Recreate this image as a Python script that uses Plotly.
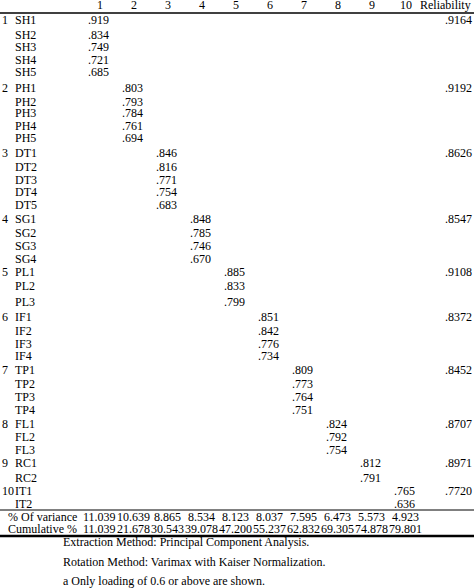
import plotly.graph_objects as go

factors = ["1", "2", "3", "4", "5", "6", "7", "8", "9", "10"]
groups = [
    ("1", ["SH1", "SH2", "SH3", "SH4", "SH5"], [".919", ".834", ".749", ".721", ".685"], ".9164"),
    ("2", ["PH1", "PH2", "PH3", "PH4", "PH5"], [".803", ".793", ".784", ".761", ".694"], ".9192"),
    ("3", ["DT1", "DT2", "DT3", "DT4", "DT5"], [".846", ".816", ".771", ".754", ".683"], ".8626"),
    ("4", ["SG1", "SG2", "SG3", "SG4"], [".848", ".785", ".746", ".670"], ".8547"),
    ("5", ["PL1", "PL2", "PL3"], [".885", ".833", ".799"], ".9108"),
    ("6", ["IF1", "IF2", "IF3", "IF4"], [".851", ".842", ".776", ".734"], ".8372"),
    ("7", ["TP1", "TP2", "TP3", "TP4"], [".809", ".773", ".764", ".751"], ".8452"),
    ("8", ["FL1", "FL2", "FL3"], [".824", ".792", ".754"], ".8707"),
    ("9", ["RC1", "RC2"], [".812", ".791"], ".8971"),
    ("10", ["IT1", "IT2"], [".765", ".636"], ".7720"),
]
variance = ["11.039", "10.639", "8.865", "8.534", "8.123", "8.037", "7.595", "6.473", "5.573", "4.923"]
cumulative = ["11.039", "21.678", "30.543", "39.078", "47.200", "55.237", "62.832", "69.305", "74.878", "79.801"]
notes = ["Extraction Method: Principal Component Analysis.",
         "Rotation Method: Varimax with Kaiser Normalization.",
         "a Only loading of 0.6 or above are shown."]

row_y = [20, 35, 47, 60, 72, 88, 102, 113, 126, 138, 153, 167, 180, 192, 205,
         219, 233, 246, 259, 272, 286, 302, 317, 331, 344, 356, 370, 384, 397, 410,
         424, 437, 450, 463, 478, 491, 504]
col_x = [98, 132, 166, 200, 234, 268, 302, 336, 370, 404]

F = dict(family="Liberation Serif", size=12, color="black")
ann = []
def t(x, y, s, anchor="center"):
    ann.append(dict(x=x, y=y, text=s, showarrow=False, xanchor=anchor, yanchor="middle",
                    font=F, xref="x", yref="y"))

for i, f in enumerate(factors):
    t(col_x[i] + 2, 5, f)
t(445, 5, "Reliability")

r = 0
for gi, (num, items, loads, rel) in enumerate(groups):
    for k, (it, ld) in enumerate(zip(items, loads)):
        y = row_y[r]
        if k == 0:
            t(0, y, num, "left")
            t(474, y, rel, "right")
        t(13, y, it, "left")
        t(col_x[gi], y, ld)
        r += 1

t(79, 517, "% Of variance", "right")
t(79, 529, "Cumulative %", "right")
for i in range(10):
    t(col_x[i] + 1, 517, variance[i])
    t(col_x[i] + 1, 529, cumulative[i])
for y, s in zip([542, 562, 581], notes):
    t(61, y, s, "left")

shapes = [
    dict(type="line", x0=0, x1=474, y0=13, y1=13, line=dict(color="black", width=1.5)),
    dict(type="line", x0=0, x1=474, y0=510, y1=510, line=dict(color="black", width=1)),
    dict(type="line", x0=0, x1=474, y0=536, y1=536, line=dict(color="black", width=2.5)),
]

fig = go.Figure()
fig.update_layout(
    width=474, height=588, margin=dict(l=0, r=0, t=0, b=0),
    paper_bgcolor="white", plot_bgcolor="white",
    xaxis=dict(range=[0, 474], visible=False, fixedrange=True),
    yaxis=dict(range=[588, 0], visible=False, fixedrange=True),
    annotations=ann, shapes=shapes, showlegend=False,
)
fig.write_html("out.html", config={"displayModeBar": False},
               post_script="document.body.style.margin='0';document.body.style.overflow='hidden';")
